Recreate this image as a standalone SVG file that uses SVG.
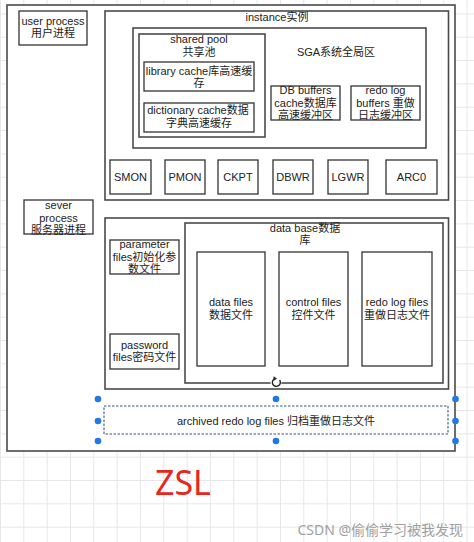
<svg xmlns="http://www.w3.org/2000/svg" width="474" height="542" viewBox="0 0 474 542">
<style>
.t{font-family:"Liberation Sans","Noto Sans CJK SC",sans-serif;font-size:11px;fill:#222;text-anchor:middle}
.big{fill:#fff;stroke:#4a4a4a;stroke-width:1.6}
.box{fill:#fff;stroke:#333;stroke-width:1.3}
.h{fill:#1f7ae6}
</style>
<defs>
<pattern id="grid" x="0" y="13.4" width="23.33" height="23.33" patternUnits="userSpaceOnUse">
<path d="M0.5 0V23.33M0 0.5H23.33" fill="none" stroke="#e6e6e6" stroke-width="1"/>
</pattern>
</defs>
<rect width="474" height="542" fill="#fff"/>
<rect width="474" height="542" fill="url(#grid)"/>

<g id="outer"><rect class="big" x="7" y="5" width="448" height="446"/></g>

<g id="user-process"><rect class="box" x="19" y="11" width="68" height="34"/>
<text class="t" x="53" y="25">user process</text><text class="t" x="53" y="37">用户进程</text></g>

<g id="instance"><rect class="big" x="105" y="11" width="343.5" height="189"/>
<text class="t" x="277" y="21">instance实例</text></g>

<g id="sga"><rect class="big" x="133" y="28" width="293" height="120"/>
<text class="t" x="336" y="56">SGA系统全局区</text></g>

<g id="shared-pool"><rect class="big" x="139" y="34" width="126" height="103"/>
<text class="t" x="199" y="43">shared pool</text><text class="t" x="199" y="55.5">共享池</text></g>

<g id="library-cache"><rect class="box" x="144" y="62" width="110" height="29"/>
<text class="t" x="199" y="75">library cache库高速缓</text><text class="t" x="199" y="87">存</text></g>

<g id="dictionary-cache"><rect class="box" x="144" y="103" width="110" height="29"/>
<text class="t" x="198" y="114">dictionary cache数据</text><text class="t" x="199" y="127">字典高速缓存</text></g>

<g id="db-buffers"><rect class="box" x="271" y="86" width="69" height="34"/>
<text class="t" x="305.5" y="94">DB buffers</text><text class="t" x="305.5" y="106.5">cache数据库</text><text class="t" x="305.5" y="119">高速缓冲区</text></g>

<g id="redo-log-buffers"><rect class="box" x="351" y="86" width="69" height="34"/>
<text class="t" x="385.5" y="94">redo log</text><text class="t" x="385.5" y="106.5">buffers 重做</text><text class="t" x="385.5" y="119">日志缓冲区</text></g>

<g id="smon"><rect class="box" x="110" y="160" width="41" height="34"/><text class="t" x="130.5" y="181">SMON</text></g>
<g id="pmon"><rect class="box" x="165" y="160" width="40" height="34"/><text class="t" x="185" y="181">PMON</text></g>
<g id="ckpt"><rect class="box" x="218" y="160" width="40" height="34"/><text class="t" x="238" y="181">CKPT</text></g>
<g id="dbwr"><rect class="box" x="273" y="160" width="40" height="34"/><text class="t" x="293" y="181">DBWR</text></g>
<g id="lgwr"><rect class="box" x="328" y="160" width="40" height="34"/><text class="t" x="348" y="181">LGWR</text></g>
<g id="arc0"><rect class="box" x="386" y="160" width="51" height="34"/><text class="t" x="411.5" y="181">ARC0</text></g>

<g id="server-process"><rect class="box" x="24" y="200" width="69" height="34"/>
<text class="t" x="58.5" y="209">sever</text><text class="t" x="58.5" y="222">process</text><text class="t" x="58.5" y="234">服务器进程</text></g>

<g id="storage"><rect class="big" x="105" y="218" width="343.5" height="171"/></g>

<g id="parameter-files"><rect class="box" x="110" y="240" width="69" height="34"/>
<text class="t" x="144.5" y="248">parameter</text><text class="t" x="144.5" y="261">files初始化参</text><text class="t" x="144.5" y="273">数文件</text></g>

<g id="password-files"><rect class="box" x="110" y="334" width="69" height="35"/>
<text class="t" x="144.5" y="349">password</text><text class="t" x="144.5" y="361">files密码文件</text></g>

<g id="database"><rect class="big" x="185" y="223" width="258" height="160"/>
<text class="t" x="305" y="232">data base数据</text><text class="t" x="305" y="244">库</text></g>

<g id="data-files"><rect class="box" x="197" y="252" width="68" height="114"/>
<text class="t" x="231" y="306">data files</text><text class="t" x="231" y="319">数据文件</text></g>

<g id="control-files"><rect class="box" x="279" y="252" width="69" height="114"/>
<text class="t" x="313.5" y="306">control files</text><text class="t" x="313.5" y="319">控件文件</text></g>

<g id="redo-log-files"><rect class="box" x="362" y="252" width="70" height="114"/>
<text class="t" x="397" y="306">redo log files</text><text class="t" x="397" y="319">重做日志文件</text></g>

<g id="rotate-handle">
<circle cx="276" cy="382.5" r="5.5" fill="#fff"/>
<path d="M279.6 380A4 4 0 1 1 274.5 378.8" fill="none" stroke="#222" stroke-width="1.4"/>
<path d="M273.5 376.3L277 378.6L273.6 381Z" fill="#222"/>
</g>

<g id="archived-redo-log-files">
<rect x="104" y="406" width="344" height="28" fill="#fff" stroke="#2c5d7c" stroke-width="1.1" stroke-dasharray="2.5 1.5"/>
<text class="t" x="276" y="425">archived redo log files 归档重做日志文件</text>
<circle class="h" cx="98" cy="399" r="3.3"/><circle class="h" cx="276" cy="399" r="3.3"/><circle class="h" cx="455.5" cy="399" r="3.3"/>
<circle class="h" cx="98" cy="421" r="3.3"/><circle class="h" cx="455.5" cy="421" r="3.3"/>
<circle class="h" cx="98" cy="441" r="3.3"/><circle class="h" cx="276" cy="441" r="3.3"/><circle class="h" cx="455.5" cy="441" r="3.3"/>
</g>

<g id="connectors"></g>

<text x="155" y="495" font-family="'Noto Sans',sans-serif" font-size="34" fill="#e8261c">ZSL</text>
<text x="463" y="535" font-family="'Noto Sans','Noto Sans CJK SC',sans-serif" font-size="14" fill="#a0a0a0" text-anchor="end">CSDN @偷偷学习被我发现</text>
</svg>
